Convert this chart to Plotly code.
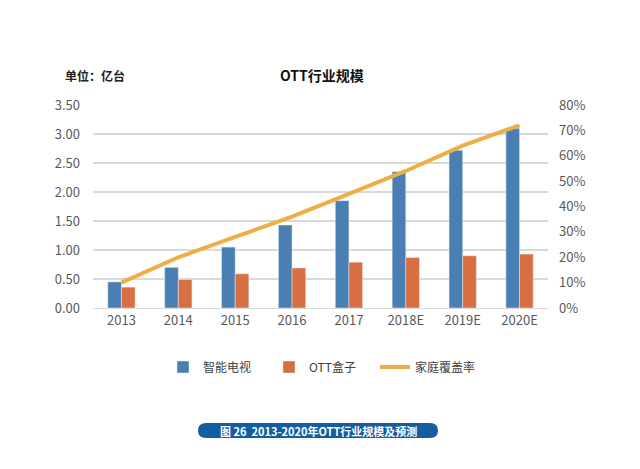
import plotly.graph_objects as go

years = ["2013", "2014", "2015", "2016", "2017", "2018E", "2019E", "2020E"]
smart_tv = [0.45, 0.70, 1.05, 1.43, 1.85, 2.35, 2.72, 3.10]
ott_box = [0.36, 0.49, 0.59, 0.69, 0.79, 0.87, 0.90, 0.93]
coverage = [0.10, 0.20, 0.28, 0.36, 0.45, 0.54, 0.64, 0.72]

FONT = "Noto Sans CJK SC, Open Sans, sans-serif"
BLUE = "#4a7fb4"
ORANGE = "#d86f42"
GOLD = "#eeae45"

L, R, T, B = 93, 548, 105, 308
PW, PH = R - L, B - T


def px(x):
    return (x - L) / PW


def py(y):
    return (B - y) / PH


def rounded_box(x0, y0, x1, y1, r):
    # path in paper coordinates, rounded ends
    pts = [
        f"M {px(x0 + r)},{py(y0)}",
        f"L {px(x1 - r)},{py(y0)}",
        f"Q {px(x1)},{py(y0)} {px(x1)},{py((y0 + y1) / 2)}",
        f"Q {px(x1)},{py(y1)} {px(x1 - r)},{py(y1)}",
        f"L {px(x0 + r)},{py(y1)}",
        f"Q {px(x0)},{py(y1)} {px(x0)},{py((y0 + y1) / 2)}",
        f"Q {px(x0)},{py(y0)} {px(x0 + r)},{py(y0)}",
        "Z",
    ]
    return " ".join(pts)


fig = go.Figure()
fig.add_trace(go.Bar(x=years, y=smart_tv, name="智能电视", marker_color=BLUE))
fig.add_trace(go.Bar(x=years, y=ott_box, name="OTT盒子", marker_color=ORANGE))
fig.add_trace(go.Scatter(x=years, y=coverage, name="家庭覆盖率", yaxis="y2",
                         mode="lines", line=dict(color=GOLD, width=4)))

fig.update_layout(
    width=640, height=469,
    margin=dict(l=L, r=640 - R, t=T, b=469 - B),
    paper_bgcolor="white", plot_bgcolor="white",
    font=dict(family=FONT, color="#595959", size=13),
    barmode="group", bargap=0.52, bargroupgap=0,
    showlegend=True,
    legend=dict(orientation="h", x=px(163), xanchor="left", y=py(367), yanchor="middle",
                font=dict(size=12, color="#404040"), entrywidth=61,
                itemwidth=30),
    xaxis=dict(type="category", showgrid=False, showline=True, linecolor="#d9d9d9",
               linewidth=1, ticks="", tickfont=dict(size=13, color="#595959")),
    yaxis=dict(range=[0, 3.5], dtick=0.5, tickformat=".2f", showgrid=True,
               gridcolor="#d9d9d9", gridwidth=1.5, zeroline=False, ticks="",
               ticklabelstandoff=12, tickfont=dict(size=13, color="#595959")),
    yaxis2=dict(range=[0, 0.8], dtick=0.1, tickformat=".0%", overlaying="y",
                side="right", showgrid=False, zeroline=False, ticks="",
                ticklabelstandoff=10, tickfont=dict(size=13, color="#595959")),
    annotations=[
        dict(text="<b>OTT行业规模</b>", xref="paper", yref="paper", x=px(322), y=py(75),
             xanchor="center", yanchor="middle", showarrow=False,
             font=dict(size=14, color="#111111")),
        dict(text="<b>单位：亿台</b>", xref="paper", yref="paper", x=px(95), y=py(75),
             xanchor="center", yanchor="middle", showarrow=False,
             font=dict(size=12, color="#222222")),
        dict(text="<b>图 26  2013-2020年OTT行业规模及预测</b>", xref="paper", yref="paper",
             x=px(318), y=py(430.5), xanchor="center", yanchor="middle", showarrow=False,
             font=dict(size=11, color="white")),
    ],
    shapes=[
        dict(type="path", xref="paper", yref="paper",
             path=rounded_box(198, 423, 438, 438, 8),
             fillcolor="#135ea3", line=dict(width=0), layer="below"),
    ],
)

fig.write_html("out.html")
